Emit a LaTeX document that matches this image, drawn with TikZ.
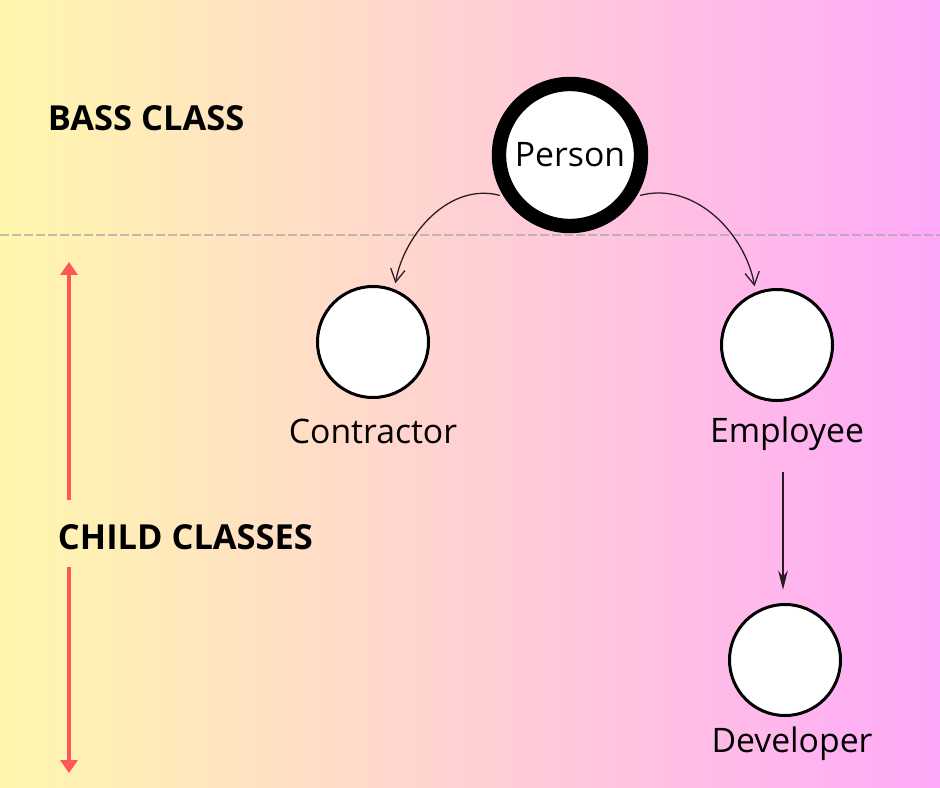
\documentclass[tikz,border=0pt]{standalone}
\usepackage{fontspec}
\setmainfont{Open Sans}
\usetikzlibrary{arrows.meta}
\definecolor{bgleft}{HTML}{FFF7AD}
\definecolor{bgright}{HTML}{FFA9F9}
\definecolor{arrowred}{HTML}{FF5757}
\definecolor{inkdark}{HTML}{2A1A22}
\begin{document}
\begin{tikzpicture}[x=0.025cm,y=-0.025cm,
  every node/.style={font=\fontsize{24}{28}\selectfont},
  childnode/.style={circle,draw=black,fill=white,line width=0.075cm,minimum size=2.775cm,inner sep=0pt},
  basenode/.style={circle,draw=black,fill=white,line width=0.36cm,minimum size=3.55cm,inner sep=0pt},
  heading/.style={anchor=west,font=\fontsize{24.5}{28}\selectfont\bfseries},
  bendarrow/.style={draw=inkdark,line width=0.9pt,-{Straight Barb[length=0.32cm,width=0.36cm]}},
  downarrow/.style={draw=inkdark,line width=1.6pt,-{Stealth[length=0.48cm,width=0.24cm]}},
  redarrow/.style={draw=arrowred,line width=2.6pt,-{Triangle[length=0.32cm,width=0.42cm]}}]

% background
\useasboundingbox (0,0) rectangle (940,788);
\shade[left color=bgleft,right color=bgright] (0,0) rectangle (940,788);
\draw[gray!70,opacity=0.7,line width=0.8pt,dash pattern=on 0.22cm off 0.08cm] (0,235) -- (940,235);

% headings
\node[heading] (basetxt) at (43,118) {BASS CLASS};
\node[heading] (childtxt) at (53,537) {CHILD CLASSES};

% red range arrows
\coordinate (upstart) at (69,500);
\coordinate (upend) at (69,262);
\coordinate (downstart) at (69,567);
\coordinate (downend) at (69,773);
\draw[redarrow] (upstart) -- (upend);
\draw[redarrow] (downstart) -- (downend);

% classes
\node[basenode] (person) at (570,155) {Person};
\node[childnode] (contractor) at (373,342) {};
\node[childnode] (employee) at (777,345) {};
\node[childnode] (developer) at (785,660) {};
\node (contractortxt) at (373,431) {Contractor};
\node (employeetxt) at (787,434) {Employee};
\node (developertxt) at (792,744) {Developer};

% inheritance
\draw[bendarrow,shorten <=0.1cm,shorten >=0.15cm] (person.212) to[out=165,in=80] (contractor.68);
\draw[bendarrow,shorten <=0.1cm,shorten >=0.15cm] (person.328) to[out=15,in=100] (employee.112);
\draw[downarrow,shorten <=0.4cm,shorten >=0.33cm] (employeetxt.south -| 783,0) -- (developer.north -| 783,0);

\end{tikzpicture}
\end{document}
